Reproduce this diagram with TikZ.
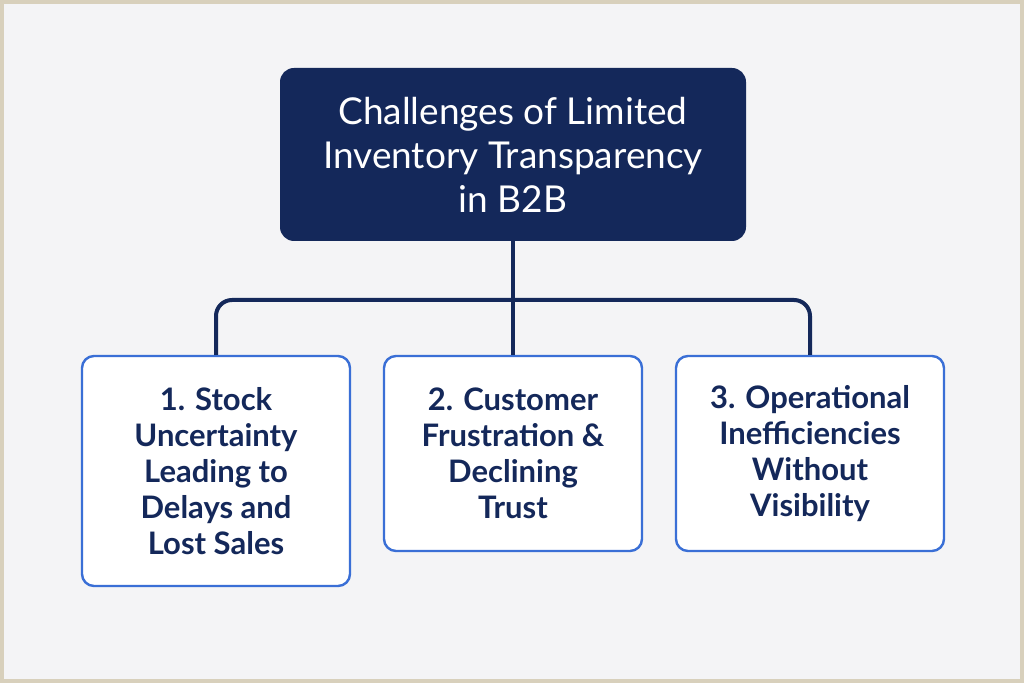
\documentclass[tikz,border=0pt]{standalone}
\usepackage{fontspec}
\setmainfont{Lato}
\definecolor{navy}{HTML}{14285A}
\definecolor{bord}{HTML}{3A6FD6}
\definecolor{bg}{HTML}{F4F4F6}
\definecolor{frame}{HTML}{D8D0BC}
\begin{document}
\begin{tikzpicture}[x=0.5pt,y=-0.5pt,
  child/.style={draw=bord,line width=1.2pt,fill=white,rounded corners=6pt,align=center,text=navy,font=\fontsize{15.5}{18}\selectfont\bfseries,inner sep=0pt},
  conn/.style={draw=navy,line width=2pt,rounded corners=8pt}]
\useasboundingbox (0,0) rectangle (1024,683);
\fill[frame] (0,0) rectangle (1024,683);
\fill[bg] (4,4) rectangle (1020,679);
\node[fill=navy,rounded corners=7pt,minimum width=233pt,minimum height=86.5pt,align=center,text=white,font=\fontsize{18.5}{22}\selectfont,inner sep=0pt] (top) at (513,154.5) {Challenges of Limited\\Inventory Transparency\\in B2B};
\node[child,minimum width=134pt,minimum height=115pt] (a) at (216,471) {1. Stock\\Uncertainty\\Leading to\\Delays and\\Lost Sales};
\node[child,minimum width=129pt,minimum height=97.5pt] (b) at (513,453.5) {2. Customer\\Frustration \&\\Declining\\Trust};
\node[child,minimum width=134pt,minimum height=97.5pt] (c) at (810,453.5) {3. Operational\\Inefficiencies\\Without\\Visibility};
\coordinate (j) at (513,300);
\draw[conn] (top.south) -- (j);
\draw[conn] (a.north) -- (216,300) -- (810,300) -- (c.north);
\draw[conn] (j) -- (b.north);
\end{tikzpicture}
\end{document}
